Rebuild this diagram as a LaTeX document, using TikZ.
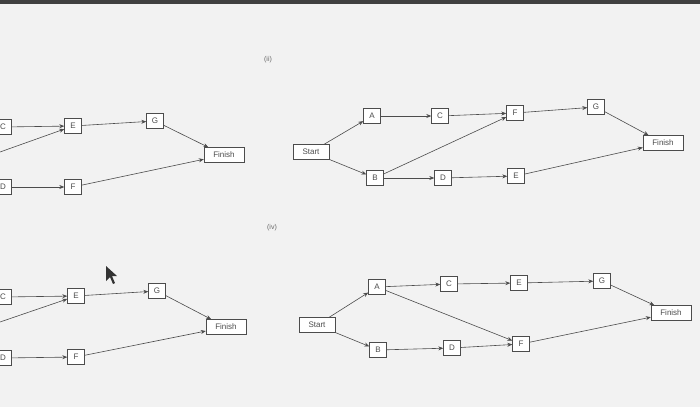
\documentclass[tikz,border=0pt]{standalone}
\usepackage{fontspec}
\setmainfont{Liberation Sans}
\usetikzlibrary{arrows.meta}
\begin{document}
\begin{tikzpicture}[x=1pt,y=-1pt,
  box/.style={draw=black!70,fill=white,minimum width=17pt,minimum height=15pt,inner sep=1pt,font=\fontsize{8}{9}\selectfont,text=black!70},
  wbox/.style={box,minimum width=40pt},
  arr/.style={-{Stealth[length=5pt,width=4pt]},draw=black!70,line width=0.6pt},
  lbl/.style={font=\fontsize{7}{8}\selectfont,text=black!60}]
\useasboundingbox (0,0) rectangle (700,407);
\clip (0,0) rectangle (700,407);
\fill[black!5] (0,0) rectangle (700,407);
\fill[black!75] (0,0) rectangle (700,4);
% top left
\node[box] (c1) at (3,127) {C};
\node[box] (e1) at (73,126) {E};
\node[box] (g1) at (155,121) {G};
\node[wbox] (f1n) at (224,155) {Finish};
\node[box] (d1) at (3,187) {D};
\node[box] (f1) at (73,187) {F};
\coordinate (x1) at (0,152);
\draw[arr] (c1) -- (e1); \draw[arr] (x1) -- (e1); \draw[arr] (e1) -- (g1);
\draw[arr] (g1) -- (f1n); \draw[arr] (d1) -- (f1); \draw[arr] (f1) -- (f1n);
\node[lbl] (l2) at (268,60) {(ii)};
% top right
\node[wbox,minimum width=36pt] (s2) at (311,152) {Start};
\node[box] (a2) at (372,116) {A};
\node[box] (c2) at (440,116) {C};
\node[box] (f2) at (515,113) {F};
\node[box] (g2) at (596,107) {G};
\node[wbox] (fn2) at (663,143) {Finish};
\node[box] (b2) at (375,178) {B};
\node[box] (d2) at (443,178) {D};
\node[box] (e2) at (516,176) {E};
\draw[arr] (s2) -- (a2); \draw[arr] (s2) -- (b2); \draw[arr] (a2) -- (c2);
\draw[arr] (c2) -- (f2); \draw[arr] (f2) -- (g2); \draw[arr] (g2) -- (fn2);
\draw[arr] (b2) -- (f2); \draw[arr] (b2) -- (d2); \draw[arr] (d2) -- (e2);
\draw[arr] (e2) -- (fn2);
\node[lbl] (l4) at (272,228) {(iv)};
% bottom left
\node[box] (c3) at (3,297) {C};
\node[box] (e3) at (76,296) {E};
\node[box] (g3) at (157,291) {G};
\node[wbox] (fn3) at (226,327) {Finish};
\node[box] (d3) at (3,358) {D};
\node[box] (f3) at (76,357) {F};
\coordinate (x3) at (0,322);
\draw[arr] (c3) -- (e3); \draw[arr] (x3) -- (e3); \draw[arr] (e3) -- (g3);
\draw[arr] (g3) -- (fn3); \draw[arr] (d3) -- (f3); \draw[arr] (f3) -- (fn3);
% cursor
\fill[black!80] (106,266) -- (106,281) -- (110,277) -- (113,284) -- (115,283) -- (112,276) -- (117,276) -- cycle;
% bottom right
\node[wbox,minimum width=36pt] (s4) at (317,325) {Start};
\node[box] (a4) at (377,287) {A};
\node[box] (c4) at (449,284) {C};
\node[box] (e4) at (519,283) {E};
\node[box] (g4) at (602,281) {G};
\node[wbox] (fn4) at (671,313) {Finish};
\node[box] (b4) at (378,350) {B};
\node[box] (d4) at (452,348) {D};
\node[box] (f4) at (521,344) {F};
\draw[arr] (s4) -- (a4); \draw[arr] (s4) -- (b4); \draw[arr] (a4) -- (c4);
\draw[arr] (c4) -- (e4); \draw[arr] (e4) -- (g4); \draw[arr] (g4) -- (fn4);
\draw[arr] (a4) -- (f4); \draw[arr] (b4) -- (d4); \draw[arr] (d4) -- (f4);
\draw[arr] (f4) -- (fn4);
\end{tikzpicture}
\end{document}
